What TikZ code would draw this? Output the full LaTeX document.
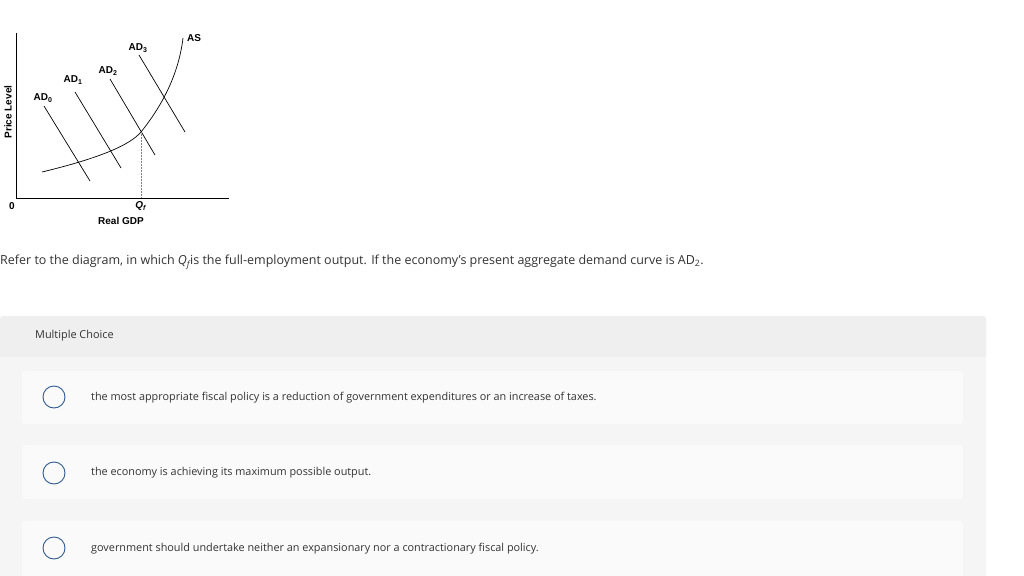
\documentclass[tikz,border=0pt]{standalone}
\usepackage{fontspec}
\setmainfont{Open Sans}
\newfontfamily\grfont{Liberation Sans}
\definecolor{hdr}{HTML}{EFEFEF}
\definecolor{panel}{HTML}{F5F5F5}
\definecolor{choice}{HTML}{FAFAFA}
\definecolor{ring}{HTML}{2E5B97}
\definecolor{txt}{HTML}{333333}
\tikzset{
  curve/.style={line width=0.7pt, black},
  adlab/.style={font=\grfont\bfseries\fontsize{10}{12}\selectfont, inner sep=0pt},
  choicebox/.style={fill=choice, draw=none, rounded corners=3pt},
  radio/.style={circle, draw=ring, line width=0.9pt, minimum size=22pt, inner sep=0pt},
  choicetext/.style={anchor=west, font=\fontsize{10.85}{12}\selectfont, text=txt, inner sep=0pt},
}
\begin{document}
\begin{tikzpicture}[x=1pt,y=-1pt]
\useasboundingbox (0,0) rectangle (1024,575);
\fill[white] (0,0) rectangle (1024,575);
% graph
\coordinate (O) at (16,198);
\coordinate (Ytop) at (16,33);
\coordinate (Xend) at (229,198);
\draw[line width=0.6pt] (Ytop) -- (O) -- (Xend);
\node[font=\grfont\bfseries\fontsize{10}{12}\selectfont, rotate=90] (pl) at (8,112) {Price Level};
\node[font=\grfont\bfseries\fontsize{10}{12}\selectfont] (zero) at (12,206) {0};
\node[font=\grfont\bfseries\fontsize{10}{12}\selectfont] (qf) at (141,206) {\textit{Q}\textsubscript{\textit{f}}};
\node[font=\grfont\bfseries\fontsize{10}{12}\selectfont] (rgdp) at (121,221) {Real GDP};
% AD lines
\coordinate (a0s) at (44,106); \coordinate (a0e) at (90,181);
\coordinate (a1s) at (75,92);  \coordinate (a1e) at (121,168);
\coordinate (a2s) at (110,79); \coordinate (a2e) at (155,155);
\coordinate (a3s) at (139,55); \coordinate (a3e) at (185,132);
\draw[curve] (a0s) -- (a0e);
\draw[curve] (a1s) -- (a1e);
\draw[curve] (a2s) -- (a2e);
\draw[curve] (a3s) -- (a3e);
\node[adlab] (l0) at (43,98) {AD\textsubscript{0}};
\node[adlab] (l1) at (73,80) {AD\textsubscript{1}};
\node[adlab] (l2) at (108,71) {AD\textsubscript{2}};
\node[adlab] (l3) at (138,48) {AD\textsubscript{3}};
\node[adlab] (las) at (194,38) {AS};
% AS curve
\coordinate (asS) at (42,172);
\coordinate (E) at (141,132);
\coordinate (asE) at (183,38);
\draw[curve] (asS) .. controls (100,158) and (130,145) .. (E) .. controls (157,112) and (178,80) .. (asE);
\coordinate (Ebase) at (141,198);
\draw[densely dotted, line width=0.5pt, gray] (E) -- (Ebase);
% question
\node[anchor=west, font=\fontsize{12.5}{14}\selectfont, text=txt, inner sep=0pt] (q) at (0,262)
  {Refer to the diagram, in which \textit{Q\textsubscript{f}}is the full-employment output. If the economy's present aggregate demand curve is AD\textsubscript{2}.};
% panel
\fill[panel, rounded corners=3pt] (0,316) rectangle (986,590);
\fill[hdr, rounded corners=3pt] (0,316) rectangle (986,357);
\fill[hdr] (0,340) rectangle (986,357);
\node[anchor=west, font=\fontsize{10.9}{12}\selectfont, text=txt, inner sep=0pt] (mc) at (35,336) {Multiple Choice};
% choices
\fill[choicebox] (22,371) rectangle (963,424);
\fill[choicebox] (22,445) rectangle (963,499);
\fill[choicebox] (22,521) rectangle (963,590);
\node[radio] (r1) at (54,397) {};
\node[radio] (r2) at (54,473) {};
\node[radio] (r3) at (54,548) {};
\node[choicetext] (c1) at (91,398) {the most appropriate fiscal policy is a reduction of government expenditures or an increase of taxes.};
\node[choicetext] (c2) at (91,473) {the economy is achieving its maximum possible output.};
\node[choicetext] (c3) at (91,549) {government should undertake neither an expansionary nor a contractionary fiscal policy.};
\end{tikzpicture}
\end{document}
